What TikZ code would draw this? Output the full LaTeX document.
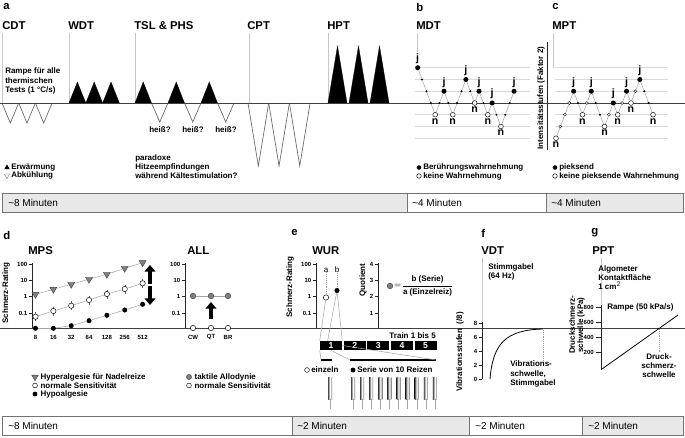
\documentclass[tikz,border=0pt]{standalone}
\usepackage{fontspec}
\setmainfont{Liberation Sans}
\usetikzlibrary{positioning, calc, arrows.meta, shapes.geometric}

\begin{document}
\begin{tikzpicture}[x=0.75pt, y=-0.75pt]
\tikzset{
    panel/.style={font=\fontsize{8.5}{9}\selectfont\bfseries, anchor=west, inner sep=0pt},
    txt/.style={font=\fontsize{6}{6.8}\selectfont\bfseries, anchor=west, inner sep=0pt, align=left},
    tick/.style={font=\fontsize{4.5}{5}\selectfont\bfseries, inner sep=0pt},
    mins/.style={font=\fontsize{7.5}{9}\selectfont, anchor=west, inner sep=0pt},
    jn/.style={font=\fontsize{8}{8}\selectfont\bfseries, inner sep=0pt, label distance=0.6pt},
    stem/.style={draw=black!22, line width=0.4pt},
    grid/.style={draw=black!15, line width=0.4pt},
    base/.style={draw=black!75, line width=0.7pt},
    axis/.style={draw=black!85, line width=0.5pt},
    link/.style={draw=black!35, line width=0.4pt},
    warm/.style={fill=black, draw=black, line width=0.2pt},
    cold/.style={draw=black!60, line width=0.5pt},
    ptJ/.style={circle, fill=black, inner sep=0pt, minimum size=3.8pt, label={[jn]above:j}},
    pts/.style={circle, fill=black, inner sep=0pt, minimum size=1.7pt},
    ptN/.style={circle, draw=black, fill=white, line width=0.35pt, inner sep=0pt, minimum size=3.6pt, label={[jn]below:n}},
    pto/.style={circle, draw=black, fill=white, line width=0.3pt, inner sep=0pt, minimum size=2.3pt},
    tri/.style={regular polygon, regular polygon sides=3, shape border rotate=180, fill=black!50, draw=black!75, line width=0.3pt, inner sep=0pt, minimum size=6pt},
    dotO/.style={circle, draw=black, fill=white, line width=0.35pt, inner sep=0pt, minimum size=4pt},
    dotF/.style={circle, fill=black, inner sep=0pt, minimum size=3.8pt},
    dotG/.style={circle, draw=black!75, fill=black!50, line width=0.35pt, inner sep=0pt, minimum size=4.2pt},
    blk/.style={line width=3pt, -{Triangle[width=8pt, length=5pt]}},
    trainbox/.style={fill=black, text=white, font=\fontsize{6.5}{7}\selectfont\bfseries, minimum width=16.5pt, minimum height=6.8pt, inner sep=0pt},
    timebox/.style={draw=black!55, line width=0.6pt},
    needle/.pic={
        \shade[left color=black!70, right color=black!55, middle color=white] (-2,0) rectangle (2,22);
        \draw[black!35, line width=0.3pt] (0,22) -- (0,32);
    },
}
    \useasboundingbox (0,0) rectangle (685,438);

    % ---------------- top row ----------------
    \draw[base] (0,103) -- (685,103);

    \node[panel] (la) at (3,7) {a};
    \node[panel] (lb) at (416,7) {b};
    \node[panel] (lc) at (552,7) {c};

    \node[panel] (cdt) at (2,26) {CDT};
    \node[panel] (wdt) at (68,26) {WDT};
    \node[panel] (tsl) at (134,26) {TSL \& PHS};
    \node[panel] (cpt) at (247,26) {CPT};
    \node[panel] (hpt) at (327,26) {HPT};
    \node[panel] (mdt) at (416,26) {MDT};
    \node[panel] (mpt) at (552,26) {MPT};

    \foreach \sx in {2,69,135,249,328}
        \draw[stem] (\sx,33) -- (\sx,103);
    \draw[stem] (417,33) -- (417,52);
    \draw[stem] (553,33) -- (553,68);

    % "contents" of CDT
    \foreach \i in {0,1,2}
        \draw[cold] ({2+\i*16.7},103) -- ({10.3+\i*16.7},123) -- ({18.7+\i*16.7},103);
    \node[txt] (ramp) at (5,81) {Rampe für alle\\thermischen\\Tests (1 °C/s)};

    % "contents" of WDT
    \foreach \i in {0,1,2}
        \fill[warm] ({69+\i*16.8},103) -- ({77.4+\i*16.8},82) -- ({85.8+\i*16.8},103) -- cycle;

    % "contents" of TSL & PHS
    \foreach \i in {0,1,2} {
        \fill[warm] ({135+\i*33},103) -- ({143.25+\i*33},82) -- ({151.5+\i*33},103) -- cycle;
        \draw[cold] ({151.5+\i*33},103) -- ({159.75+\i*33},122) -- ({168+\i*33},103);
    }
    \foreach \hx [count=\k] in {160,193,226}
        \node[txt, anchor=center] (hot\k) at (\hx,130) {heiß?};
    \node[txt] (para) at (135,167) {paradoxe\\Hitzeempfindungen\\während Kältestimulation?};

    % "contents" of CPT
    \foreach \i in {0,1,2}
        \draw[cold] ({248+\i*20.7},103) -- ({258.35+\i*20.7},166) -- ({268.7+\i*20.7},103);

    % "contents" of HPT
    \foreach \i in {0,1,2}
        \fill[warm] ({328+\i*21},103) -- ({337.5+\i*21},46) -- ({347+\i*21},103) -- cycle;

    % legend a
    \node[regular polygon, regular polygon sides=3, fill=black, inner sep=0pt, minimum size=4.6pt] (lgw) at (7,167.5) {};
    \node[txt, right=3pt of lgw.center] (lgwt) {Erwärmung};
    \node[regular polygon, regular polygon sides=3, shape border rotate=180, draw=black!55, line width=0.3pt, inner sep=0pt, minimum size=4.6pt] (lgc) at (7,175.5) {};
    \node[txt, right=3pt of lgc.center] (lgct) {Abkühlung};

    % "contents" of MDT and MPT
    \foreach \lv in {3,2,1,-1,-2,-3} {
        \draw[grid] (415,{103-\lv*11.75}) -- (530,{103-\lv*11.75});
        \draw[grid] (555,{103-\lv*11.75}) -- (668,{103-\lv*11.75});
    }
    \draw[base] (0,103) -- (685,103);
    \draw[axis] (547,42) -- (547,150);
    \node[txt, rotate=90, anchor=center] (intens) at (541,98) {Intensitätsstufen (Faktor 2)};

    \foreach \lv/\ty [count=\i] in {3/J,2/s,1/s,0/s,-1/N,0/s,1/J,0/s,-1/N,0/s,1/s,2/J,1/s,0/N,1/J,0/s,-1/N,0/J,-1/s,-2/N,-1/s,0/s,1/J}
        \node[pt\ty] (mdt\i) at ({417.7+(\i-1)*4.38},{103-\lv*11.75}) {};
    \foreach \i [evaluate=\i as \j using int(\i+1)] in {1,...,22}
        \draw[link] (mdt\i) -- (mdt\j);

    \foreach \lv/\ty [count=\i] in {-3/N,-2/o,-1/o,0/o,1/J,0/s,-1/N,0/o,1/J,0/s,-1/s,-2/N,-1/o,0/J,-1/N,0/o,1/J,0/N,1/o,2/J,1/s,0/s,-1/N}
        \node[pt\ty] (mpt\i) at ({556+(\i-1)*4.41},{103-\lv*11.75}) {};
    \foreach \i [evaluate=\i as \j using int(\i+1)] in {1,...,22}
        \draw[link] (mpt\i) -- (mpt\j);

    % legends b and c
    \node[dotF, minimum size=3.4pt] (lbf) at (419,167.5) {};
    \node[txt, right=3pt of lbf.center] (lbft) {Berührungswahrnehmung};
    \node[dotO, minimum size=3.4pt] (lbo) at (419,176) {};
    \node[txt, right=3pt of lbo.center] (lbot) {keine Wahrnehmung};
    \node[dotF, minimum size=3.4pt] (lcf) at (555,167.5) {};
    \node[txt, right=3pt of lcf.center] (lcft) {pieksend};
    \node[dotO, minimum size=3.4pt] (lco) at (555,176) {};
    \node[txt, right=3pt of lco.center] (lcot) {keine pieksende Wahrnehmung};

    % time bar top
    \draw[timebox, fill=black!9] (2,193) rectangle (407,212);
    \draw[timebox, fill=white] (407,193) rectangle (546,212);
    \draw[timebox, fill=black!9] (546,193) rectangle (683,212);
    \node[mins] (t8a) at (8,202.5) {\textasciitilde 8 Minuten};
    \node[mins] (t4a) at (412,202.5) {\textasciitilde 4 Minuten};
    \node[mins] (t4b) at (551,202.5) {\textasciitilde 4 Minuten};

    % ---------------- bottom row ----------------
    \draw[base] (0,328) -- (685,328);

    \node[panel] (ld) at (3,235) {d};
    \node[panel] (le) at (291,233) {e};
    \node[panel] (lf) at (481,233) {f};
    \node[panel] (lg) at (591,233) {g};

    \node[panel] (mps) at (28,251) {MPS};
    \node[panel] (all) at (187,251) {ALL};
    \node[panel] (wur) at (312,251) {WUR};
    \node[panel] (vdt) at (481,251) {VDT};
    \node[panel] (ppt) at (592,251) {PPT};

    % "contents" of MPS
    \draw[axis] (32,263) -- (32,328);
    \foreach \lab/\yy in {100/264,10/280,1/296,0.1/313} {
        \draw[axis] (29,\yy) -- (32,\yy);
        \node[tick, anchor=east] at (27.5,\yy) {\lab};
    }
    \node[txt, rotate=90, anchor=center] (srd) at (6,293) {Schmerz-Rating};
    \foreach \yt/\yo/\yf [count=\k] in {294.3/316.7/328.3,289.3/311/328.3,284.3/305.7/325.7,279.3/300/320.7,274.3/294/315.3,268.3/289/310,262.7/283.3/304.3} {
        \draw[black!60, line width=0.3pt] ({35.5+(\k-1)*17.85},{\yo-4.5}) -- ({35.5+(\k-1)*17.85},{\yo+4.5});
        \node[tri] (mpsT\k) at ({35.5+(\k-1)*17.85},\yt) {};
        \node[dotO] (mpsO\k) at ({35.5+(\k-1)*17.85},\yo) {};
        \node[dotF] (mpsF\k) at ({35.5+(\k-1)*17.85},\yf) {};
    }
    \foreach \i [evaluate=\i as \j using int(\i+1)] in {1,...,6} {
        \draw[link] (mpsT\i) -- (mpsT\j);
        \draw[link] (mpsO\i) -- (mpsO\j);
        \draw[link] (mpsF\i) -- (mpsF\j);
    }
    \foreach \lab [count=\k] in {8,16,32,64,128,256,512}
        \node[tick] (mpsx\k) at ({35.5+(\k-1)*17.85},337) {\lab};
    \draw[blk] (150,284) -- (150,265);
    \draw[blk] (150,286) -- (150,305);

    % "contents" of ALL
    \draw[axis] (185,263) -- (185,328);
    \foreach \lab/\yy in {100/264,10/280,1/296,0.1/313} {
        \draw[axis] (182,\yy) -- (185,\yy);
        \node[tick, anchor=east] at (180.5,\yy) {\lab};
    }
    \foreach \lab/\ax [count=\k] in {CW/193,QT/211,BR/228} {
        \node[dotG] (allG\k) at (\ax,296) {};
        \node[dotO] (allO\k) at (\ax,328) {};
        \node[tick] (allx\k) at (\ax,337) {\lab};
    }
    \draw[link] (allG1) -- (allG2) -- (allG3);
    \draw[blk] (211,319) -- (211,302);

    % legend d
    \node[tri, minimum size=5.6pt] (ldt) at (35,377) {};
    \node[txt, right=4pt of ldt.center] (ldtt) {Hyperalgesie für Nadelreize};
    \node[dotO, minimum size=3.6pt] (ldo) at (35,385.5) {};
    \node[txt, right=4pt of ldo.center] (ldot) {normale Sensitivität};
    \node[dotF, minimum size=3.6pt] (ldf) at (35,394) {};
    \node[txt, right=4pt of ldf.center] (ldft) {Hypoalgesie};
    \node[dotG, minimum size=3.8pt] (ldg) at (189,377) {};
    \node[txt, right=4pt of ldg.center] (ldgt) {taktile Allodynie};
    \node[dotO, minimum size=3.6pt] (ldn) at (189,385.5) {};
    \node[txt, right=4pt of ldn.center] (ldnt) {normale Sensitivität};

    % "contents" of WUR
    \draw[axis] (316,263) -- (316,328);
    \foreach \lab/\yy in {100/264,10/280,1/296,0.1/313} {
        \draw[axis] (313,\yy) -- (316,\yy);
        \node[tick, anchor=east] at (311.5,\yy) {\lab};
    }
    \node[txt, rotate=90, anchor=center] (srw) at (290,287) {Schmerz-Rating};
    \node[txt, anchor=center, font=\fontsize{6}{7}\selectfont] (wa) at (326,270) {a};
    \node[txt, anchor=center, font=\fontsize{6}{7}\selectfont] (wb) at (337,270) {b};
    \node[dotO] (wra) at (326,297.5) {};
    \node[dotF] (wrb) at (337,290.5) {};
    \draw[black!40, densely dotted, line width=0.4pt] (wa) -- (wra);
    \draw[black!40, densely dotted, line width=0.4pt] (wb) -- (wrb);

    \draw[axis] (378,263) -- (378,328);
    \foreach \lab/\yy in {4/264,3/280,2/296,1/313} {
        \draw[axis] (375,\yy) -- (378,\yy);
        \node[tick, anchor=east] at (373.5,\yy) {\lab};
    }
    \node[txt, rotate=90, anchor=center] (quo) at (363,280) {Quotient};
    \node[dotG] (qdot) at (390,286) {};
    \node[txt, right=0.5pt of qdot] (qfrac) {${=}\displaystyle\frac{\mbox{b (Serie)}}{\mbox{a (Einzelreiz)}}$};

    \node[txt, anchor=east] (train) at (436,336) {Train 1 bis 5};
    \foreach \bx [count=\k] in {331,354.9,378.3,402,425.5}
        \node[trainbox] (tb\k) at (\bx,345.5) {\k};

    \draw[link] (wra) -- (tb1.north west);
    \draw[link] (wrb) -- ($(tb1.north west)!0.35!(tb1.north east)$);
    \draw[link] (wrb) -- (tb1.north east);

    \coordinate (einL) at (321,360);
    \coordinate (einR) at (332,360);
    \coordinate (serL) at (350,360);
    \coordinate (serR) at (436,360);
    \draw[black, line width=0.8pt] (einL) -- (einR);
    \draw[black, line width=0.8pt] (serL) -- (serR);
    \draw[link] (tb1.south west) -- (einL);
    \draw[link] (tb1.south) -- (serL);
    \draw[link] (tb1.east) -- (serR);

    \node[dotO, minimum size=3.6pt] (lein) at (307,370) {};
    \node[txt, right=3pt of lein.center] (leint) {einzeln};
    \node[dotF, minimum size=3.6pt] (lser) at (353,370) {};
    \node[txt, right=3pt of lser.center] (lsert) {Serie von 10 Reizen};

    \pic at (330,377) {needle};
    \foreach \k in {0,...,9}
        \pic at ({353+\k*9.1},377) {needle};

    % "contents" of VDT
    \draw[stem] (482,258) -- (482,322);
    \node[txt] (gabel) at (488,271.5) {Stimmgabel\\(64 Hz)};
    \draw[axis] (482,322) -- (482,379);
    \foreach \lab/\yy in {8/323,6/337.5,4/351.5,2/365.5,0/379} {
        \draw[axis] (479,\yy) -- (482,\yy);
        \node[tick, anchor=east] at (477.5,\yy) {\lab};
    }
    \node[txt, rotate=90, anchor=center] (vibst) at (460,352) {Vibrationsstufen~~(/8)};
    \draw[black, line width=0.6pt] (490,379) .. controls (493,343) and (506,330) .. (543,329);
    \draw[black!40, densely dotted, line width=0.4pt] (543,330) -- (543,362);
    \node[txt] (vibsw) at (510,374) {Vibrations-\\schwelle,\\Stimmgabel};

    % "contents" of PPT
    \draw[stem] (601,258) -- (601,305);
    \node[txt] (algo) at (598,277.5) {Algometer\\Kontaktfläche\\1 cm$^{\mathrm{2}}$};
    \draw[axis] (601,305) -- (601,370);
    \foreach \lab/\yy in {800/307,600/322,400/337,200/352} {
        \draw[axis] (596,\yy) -- (601,\yy);
        \node[tick, anchor=east] at (594,\yy) {\lab};
    }
    \node[txt, rotate=90, anchor=center, align=center, font=\fontsize{6}{6.2}\selectfont\bfseries] (druck) at (577,325) {Druckschmerz-\\schwelle (kPa)};
    \node[txt] (rampe) at (607,307) {Rampe (50 kPa/s)};
    \draw[black, line width=0.6pt] (602,369) -- (678,315);
    \draw[black!40, densely dotted, line width=0.4pt] (659,329) -- (659,352);
    \node[txt, align=center, anchor=center] (dsw) at (659,366) {Druck-\\schmerz-\\schwelle};

    % time bar bottom
    \draw[timebox, fill=white] (2,416) rectangle (292,435);
    \draw[timebox, fill=black!9] (292,416) rectangle (469,435);
    \draw[timebox, fill=white] (469,416) rectangle (582,435);
    \draw[timebox, fill=black!9] (582,416) rectangle (683,435);
    \node[mins] (t8b) at (8,425.5) {\textasciitilde 8 Minuten};
    \node[mins] (t2a) at (297,425.5) {\textasciitilde 2 Minuten};
    \node[mins] (t2b) at (475,425.5) {\textasciitilde 2 Minuten};
    \node[mins] (t2c) at (588,425.5) {\textasciitilde 2 Minuten};

\end{tikzpicture}
\end{document}
